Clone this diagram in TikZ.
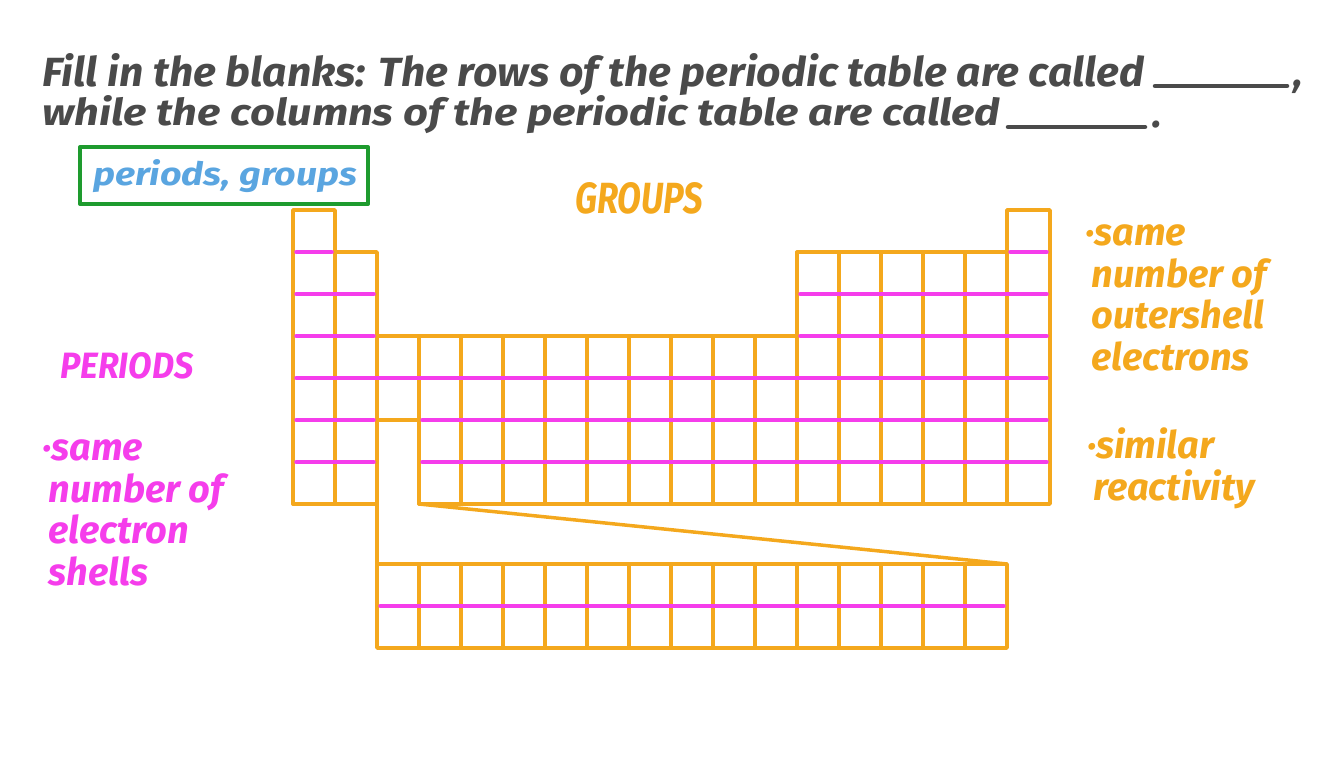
\documentclass[tikz,border=0pt]{standalone}
\usepackage{fontspec}
\setmainfont{Fira Sans}
\usepackage{graphicx}
\definecolor{orng}{HTML}{F4A81D}
\definecolor{mgnt}{HTML}{F53DEB}
\definecolor{txtg}{HTML}{4A4A4A}
\definecolor{ansb}{HTML}{5AA5E0}
\definecolor{boxg}{HTML}{1E9B2E}
\begin{document}
\begin{tikzpicture}[x=1pt,y=-1pt, line cap=round, line join=round,
  og/.style={draw=orng, line width=3.5pt},
  mg/.style={draw=mgnt, line width=3.5pt},
  blank/.style={draw=txtg, line width=4.5pt},
  hand/.style={inner sep=0pt, font=\bfseries\itshape},
  lbl/.style={inner sep=0pt, align=left, font=\fontsize{38}{41.5}\selectfont\bfseries\itshape}]
\useasboundingbox (0,0) rectangle (1344,756);
% main table outline
\draw[og] (293,504) -- (293,210) -- (335,210) -- (335,252) -- (377,252) -- (377,336) -- (797,336) -- (797,252) -- (1007,252) -- (1007,210) -- (1050,210) -- (1050,504) -- (419,504) -- (419,420) -- (377,420);
\draw[og] (293,504) -- (377,504);
\draw[og] (335,252) -- (335,504);
\draw[og] (377,336) -- (377,564);
\foreach \x in {419,461,...,755} \draw[og] (\x,336) -- (\x,504);
\foreach \x in {797,839,...,1007} \draw[og] (\x,252) -- (\x,504);
\draw[og] (419,504) -- (1007,564);
% f-block
\draw[og] (377,564) rectangle (1007,648);
\foreach \x in {419,461,...,965} \draw[og] (\x,564) -- (\x,648);
% period lines
\draw[mg] (296,252) -- (332,252);
\draw[mg] (1010,252) -- (1047,252);
\foreach \y in {294,336} {
  \draw[mg] (296,\y) -- (374,\y);
  \draw[mg] (800,\y) -- (1047,\y);
}
\draw[mg] (296,378) -- (1047,378);
\foreach \y in {420,462} {
  \draw[mg] (296,\y) -- (374,\y);
  \draw[mg] (422,\y) -- (1047,\y);
}
\draw[mg] (380,606) -- (1004,606);
% question
\node[hand, anchor=base west, text=txtg] (q1) at (42,86) {\resizebox{1102pt}{33pt}{\bfseries\itshape Fill in the blanks: The rows of the periodic table are called}};
\draw[blank] (1155,86) -- (1287,86);
\node[hand, anchor=base west, text=txtg, font=\fontsize{40}{40}\selectfont\bfseries\itshape] (c1) at (1293,86) {,};
\node[hand, anchor=base west, text=txtg] (q2) at (42,125) {\resizebox{958pt}{30pt}{\bfseries\itshape while the columns of the periodic table are called}};
\draw[blank] (1008,127) -- (1145,127);
\node[hand, anchor=base west, text=txtg, font=\fontsize{40}{40}\selectfont\bfseries\itshape] (p2) at (1152,127) {.};
% answer box
\draw[draw=boxg, line width=4pt] (80,147) rectangle (368,204);
\node[hand, anchor=base west, text=ansb] (ans) at (93,185) {\resizebox{264pt}{26pt}{\bfseries\itshape periods, groups}};
% headings
\node[hand, anchor=base west, text=orng] (groups) at (575,213) {\resizebox{128pt}{31pt}{\bfseries\itshape GROUPS}};
\node[hand, anchor=base west, text=mgnt] (periods) at (60,378) {\resizebox{133pt}{26pt}{\bfseries\itshape PERIODS}};
% notes (base anchor = last line)
\node[lbl, anchor=base west, text=mgnt] (pnote) at (42,585) {·same\\\,number of\\\,electron\\\,shells};
\node[lbl, anchor=base west, text=orng] (gnote1) at (1085,370) {·same\\\,number of\\\,outershell\\\,electrons};
\node[lbl, anchor=base west, text=orng] (gnote2) at (1087,500) {·similar\\\,reactivity};
\end{tikzpicture}
\end{document}
